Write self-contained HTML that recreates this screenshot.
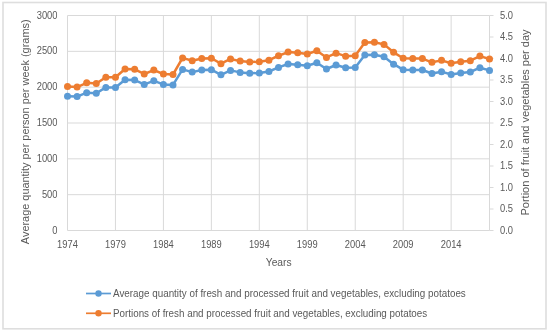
<!DOCTYPE html>
<html><head><meta charset="utf-8"><style>
html,body{margin:0;padding:0;background:#fff;}
svg{display:block;will-change:transform;}
.t{font-family:"Liberation Sans",sans-serif;font-size:10.0px;fill:#595959;}
.tl{font-family:"Liberation Sans",sans-serif;font-size:10.2px;fill:#595959;}
.tt{font-family:"Liberation Sans",sans-serif;font-size:10.6px;fill:#595959;}
</style></head><body>
<svg width="550" height="332" viewBox="0 0 550 332">
<rect x="3" y="2.5" width="543" height="326.3" fill="none" stroke="#dedede" stroke-width="1.6"/>
<line x1="67.5" y1="15.50" x2="489.5" y2="15.50" stroke="#d9d9d9" stroke-width="1"/>
<line x1="67.5" y1="51.33" x2="489.5" y2="51.33" stroke="#d9d9d9" stroke-width="1"/>
<line x1="67.5" y1="87.17" x2="489.5" y2="87.17" stroke="#d9d9d9" stroke-width="1"/>
<line x1="67.5" y1="123.00" x2="489.5" y2="123.00" stroke="#d9d9d9" stroke-width="1"/>
<line x1="67.5" y1="158.83" x2="489.5" y2="158.83" stroke="#d9d9d9" stroke-width="1"/>
<line x1="67.5" y1="194.67" x2="489.5" y2="194.67" stroke="#d9d9d9" stroke-width="1"/>
<line x1="67.5" y1="230.50" x2="489.5" y2="230.50" stroke="#d9d9d9" stroke-width="1"/>
<line x1="67.50" y1="15.5" x2="67.50" y2="230.5" stroke="#d9d9d9" stroke-width="1"/>
<line x1="115.45" y1="15.5" x2="115.45" y2="230.5" stroke="#d9d9d9" stroke-width="1"/>
<line x1="163.41" y1="15.5" x2="163.41" y2="230.5" stroke="#d9d9d9" stroke-width="1"/>
<line x1="211.36" y1="15.5" x2="211.36" y2="230.5" stroke="#d9d9d9" stroke-width="1"/>
<line x1="259.32" y1="15.5" x2="259.32" y2="230.5" stroke="#d9d9d9" stroke-width="1"/>
<line x1="307.27" y1="15.5" x2="307.27" y2="230.5" stroke="#d9d9d9" stroke-width="1"/>
<line x1="355.23" y1="15.5" x2="355.23" y2="230.5" stroke="#d9d9d9" stroke-width="1"/>
<line x1="403.18" y1="15.5" x2="403.18" y2="230.5" stroke="#d9d9d9" stroke-width="1"/>
<line x1="451.14" y1="15.5" x2="451.14" y2="230.5" stroke="#d9d9d9" stroke-width="1"/>
<line x1="489.5" y1="15.5" x2="489.5" y2="230.5" stroke="#d9d9d9" stroke-width="1"/>
<line x1="489.5" y1="15.50" x2="493.5" y2="15.50" stroke="#d9d9d9" stroke-width="1"/>
<line x1="489.5" y1="37.00" x2="493.5" y2="37.00" stroke="#d9d9d9" stroke-width="1"/>
<line x1="489.5" y1="58.50" x2="493.5" y2="58.50" stroke="#d9d9d9" stroke-width="1"/>
<line x1="489.5" y1="80.00" x2="493.5" y2="80.00" stroke="#d9d9d9" stroke-width="1"/>
<line x1="489.5" y1="101.50" x2="493.5" y2="101.50" stroke="#d9d9d9" stroke-width="1"/>
<line x1="489.5" y1="123.00" x2="493.5" y2="123.00" stroke="#d9d9d9" stroke-width="1"/>
<line x1="489.5" y1="144.50" x2="493.5" y2="144.50" stroke="#d9d9d9" stroke-width="1"/>
<line x1="489.5" y1="166.00" x2="493.5" y2="166.00" stroke="#d9d9d9" stroke-width="1"/>
<line x1="489.5" y1="187.50" x2="493.5" y2="187.50" stroke="#d9d9d9" stroke-width="1"/>
<line x1="489.5" y1="209.00" x2="493.5" y2="209.00" stroke="#d9d9d9" stroke-width="1"/>
<line x1="489.5" y1="230.50" x2="493.5" y2="230.50" stroke="#d9d9d9" stroke-width="1"/>
<text x="57.5" y="18.60" text-anchor="end" class="t" textLength="20.8" lengthAdjust="spacingAndGlyphs">3000</text>
<text x="57.5" y="54.43" text-anchor="end" class="t" textLength="20.8" lengthAdjust="spacingAndGlyphs">2500</text>
<text x="57.5" y="90.27" text-anchor="end" class="t" textLength="20.8" lengthAdjust="spacingAndGlyphs">2000</text>
<text x="57.5" y="126.10" text-anchor="end" class="t" textLength="20.8" lengthAdjust="spacingAndGlyphs">1500</text>
<text x="57.5" y="161.93" text-anchor="end" class="t" textLength="20.8" lengthAdjust="spacingAndGlyphs">1000</text>
<text x="57.5" y="197.77" text-anchor="end" class="t" textLength="15.6" lengthAdjust="spacingAndGlyphs">500</text>
<text x="57.5" y="233.60" text-anchor="end" class="t" textLength="5.2" lengthAdjust="spacingAndGlyphs">0</text>
<text x="500" y="18.70" class="t" textLength="13.0" lengthAdjust="spacingAndGlyphs">5.0</text>
<text x="500" y="40.20" class="t" textLength="13.0" lengthAdjust="spacingAndGlyphs">4.5</text>
<text x="500" y="61.70" class="t" textLength="13.0" lengthAdjust="spacingAndGlyphs">4.0</text>
<text x="500" y="83.20" class="t" textLength="13.0" lengthAdjust="spacingAndGlyphs">3.5</text>
<text x="500" y="104.70" class="t" textLength="13.0" lengthAdjust="spacingAndGlyphs">3.0</text>
<text x="500" y="126.20" class="t" textLength="13.0" lengthAdjust="spacingAndGlyphs">2.5</text>
<text x="500" y="147.70" class="t" textLength="13.0" lengthAdjust="spacingAndGlyphs">2.0</text>
<text x="500" y="169.20" class="t" textLength="13.0" lengthAdjust="spacingAndGlyphs">1.5</text>
<text x="500" y="190.70" class="t" textLength="13.0" lengthAdjust="spacingAndGlyphs">1.0</text>
<text x="500" y="212.20" class="t" textLength="13.0" lengthAdjust="spacingAndGlyphs">0.5</text>
<text x="500" y="233.70" class="t" textLength="13.0" lengthAdjust="spacingAndGlyphs">0.0</text>
<text x="67.50" y="247.5" text-anchor="middle" class="t" textLength="20.8" lengthAdjust="spacingAndGlyphs">1974</text>
<text x="115.45" y="247.5" text-anchor="middle" class="t" textLength="20.8" lengthAdjust="spacingAndGlyphs">1979</text>
<text x="163.41" y="247.5" text-anchor="middle" class="t" textLength="20.8" lengthAdjust="spacingAndGlyphs">1984</text>
<text x="211.36" y="247.5" text-anchor="middle" class="t" textLength="20.8" lengthAdjust="spacingAndGlyphs">1989</text>
<text x="259.32" y="247.5" text-anchor="middle" class="t" textLength="20.8" lengthAdjust="spacingAndGlyphs">1994</text>
<text x="307.27" y="247.5" text-anchor="middle" class="t" textLength="20.8" lengthAdjust="spacingAndGlyphs">1999</text>
<text x="355.23" y="247.5" text-anchor="middle" class="t" textLength="20.8" lengthAdjust="spacingAndGlyphs">2004</text>
<text x="403.18" y="247.5" text-anchor="middle" class="t" textLength="20.8" lengthAdjust="spacingAndGlyphs">2009</text>
<text x="451.14" y="247.5" text-anchor="middle" class="t" textLength="20.8" lengthAdjust="spacingAndGlyphs">2014</text>
<text x="278.7" y="265.7" text-anchor="middle" class="tt" textLength="25.9" lengthAdjust="spacingAndGlyphs">Years</text>
<text transform="translate(29.4,131.8) rotate(-90)" text-anchor="middle" class="tt" textLength="224.7" lengthAdjust="spacingAndGlyphs">Average quantity per person per week (grams)</text>
<text transform="translate(528.5,122.5) rotate(-90)" text-anchor="middle" class="tt" textLength="186.1" lengthAdjust="spacingAndGlyphs">Portion of fruit and vegetables per day</text>
<polyline points="67.50,96.20 77.09,96.60 86.68,92.70 96.27,93.30 105.86,87.40 115.45,87.40 125.05,79.70 134.64,80.10 144.23,84.40 153.82,80.80 163.41,84.40 173.00,84.90 182.59,69.40 192.18,72.10 201.77,70.00 211.36,69.70 220.95,74.80 230.55,70.40 240.14,72.40 249.73,73.30 259.32,73.00 268.91,71.50 278.50,67.40 288.09,64.00 297.68,64.70 307.27,65.80 316.86,62.70 326.45,69.00 336.05,65.00 345.64,67.80 355.23,67.40 364.82,55.10 374.41,54.80 384.00,56.80 393.59,64.20 403.18,69.70 412.77,70.00 422.36,70.00 431.95,73.50 441.55,71.70 451.14,74.40 460.73,73.10 470.32,72.00 479.91,67.70 489.50,70.40" fill="none" stroke="#5b9bd5" stroke-width="2.5" stroke-linejoin="round"/><circle cx="67.50" cy="96.20" r="3.5" fill="#5b9bd5"/><circle cx="77.09" cy="96.60" r="3.5" fill="#5b9bd5"/><circle cx="86.68" cy="92.70" r="3.5" fill="#5b9bd5"/><circle cx="96.27" cy="93.30" r="3.5" fill="#5b9bd5"/><circle cx="105.86" cy="87.40" r="3.5" fill="#5b9bd5"/><circle cx="115.45" cy="87.40" r="3.5" fill="#5b9bd5"/><circle cx="125.05" cy="79.70" r="3.5" fill="#5b9bd5"/><circle cx="134.64" cy="80.10" r="3.5" fill="#5b9bd5"/><circle cx="144.23" cy="84.40" r="3.5" fill="#5b9bd5"/><circle cx="153.82" cy="80.80" r="3.5" fill="#5b9bd5"/><circle cx="163.41" cy="84.40" r="3.5" fill="#5b9bd5"/><circle cx="173.00" cy="84.90" r="3.5" fill="#5b9bd5"/><circle cx="182.59" cy="69.40" r="3.5" fill="#5b9bd5"/><circle cx="192.18" cy="72.10" r="3.5" fill="#5b9bd5"/><circle cx="201.77" cy="70.00" r="3.5" fill="#5b9bd5"/><circle cx="211.36" cy="69.70" r="3.5" fill="#5b9bd5"/><circle cx="220.95" cy="74.80" r="3.5" fill="#5b9bd5"/><circle cx="230.55" cy="70.40" r="3.5" fill="#5b9bd5"/><circle cx="240.14" cy="72.40" r="3.5" fill="#5b9bd5"/><circle cx="249.73" cy="73.30" r="3.5" fill="#5b9bd5"/><circle cx="259.32" cy="73.00" r="3.5" fill="#5b9bd5"/><circle cx="268.91" cy="71.50" r="3.5" fill="#5b9bd5"/><circle cx="278.50" cy="67.40" r="3.5" fill="#5b9bd5"/><circle cx="288.09" cy="64.00" r="3.5" fill="#5b9bd5"/><circle cx="297.68" cy="64.70" r="3.5" fill="#5b9bd5"/><circle cx="307.27" cy="65.80" r="3.5" fill="#5b9bd5"/><circle cx="316.86" cy="62.70" r="3.5" fill="#5b9bd5"/><circle cx="326.45" cy="69.00" r="3.5" fill="#5b9bd5"/><circle cx="336.05" cy="65.00" r="3.5" fill="#5b9bd5"/><circle cx="345.64" cy="67.80" r="3.5" fill="#5b9bd5"/><circle cx="355.23" cy="67.40" r="3.5" fill="#5b9bd5"/><circle cx="364.82" cy="55.10" r="3.5" fill="#5b9bd5"/><circle cx="374.41" cy="54.80" r="3.5" fill="#5b9bd5"/><circle cx="384.00" cy="56.80" r="3.5" fill="#5b9bd5"/><circle cx="393.59" cy="64.20" r="3.5" fill="#5b9bd5"/><circle cx="403.18" cy="69.70" r="3.5" fill="#5b9bd5"/><circle cx="412.77" cy="70.00" r="3.5" fill="#5b9bd5"/><circle cx="422.36" cy="70.00" r="3.5" fill="#5b9bd5"/><circle cx="431.95" cy="73.50" r="3.5" fill="#5b9bd5"/><circle cx="441.55" cy="71.70" r="3.5" fill="#5b9bd5"/><circle cx="451.14" cy="74.40" r="3.5" fill="#5b9bd5"/><circle cx="460.73" cy="73.10" r="3.5" fill="#5b9bd5"/><circle cx="470.32" cy="72.00" r="3.5" fill="#5b9bd5"/><circle cx="479.91" cy="67.70" r="3.5" fill="#5b9bd5"/><circle cx="489.50" cy="70.40" r="3.5" fill="#5b9bd5"/>
<polyline points="67.50,86.61 77.09,87.04 86.68,82.86 96.27,83.50 105.86,77.18 115.45,77.18 125.05,68.93 134.64,69.36 144.23,73.97 153.82,70.11 163.41,73.97 173.00,74.50 182.59,57.90 192.18,60.79 201.77,58.54 211.36,58.22 220.95,63.68 230.55,58.97 240.14,61.11 249.73,62.08 259.32,61.75 268.91,60.15 278.50,55.75 288.09,52.11 297.68,52.86 307.27,54.04 316.86,50.72 326.45,57.47 336.05,53.18 345.64,56.18 355.23,55.75 364.82,42.58 374.41,42.26 384.00,44.40 393.59,52.33 403.18,58.22 412.77,58.54 422.36,58.54 431.95,62.29 441.55,60.36 451.14,63.25 460.73,61.86 470.32,60.68 479.91,56.08 489.50,58.97" fill="none" stroke="#ed7d31" stroke-width="2.5" stroke-linejoin="round"/><circle cx="67.50" cy="86.61" r="3.5" fill="#ed7d31"/><circle cx="77.09" cy="87.04" r="3.5" fill="#ed7d31"/><circle cx="86.68" cy="82.86" r="3.5" fill="#ed7d31"/><circle cx="96.27" cy="83.50" r="3.5" fill="#ed7d31"/><circle cx="105.86" cy="77.18" r="3.5" fill="#ed7d31"/><circle cx="115.45" cy="77.18" r="3.5" fill="#ed7d31"/><circle cx="125.05" cy="68.93" r="3.5" fill="#ed7d31"/><circle cx="134.64" cy="69.36" r="3.5" fill="#ed7d31"/><circle cx="144.23" cy="73.97" r="3.5" fill="#ed7d31"/><circle cx="153.82" cy="70.11" r="3.5" fill="#ed7d31"/><circle cx="163.41" cy="73.97" r="3.5" fill="#ed7d31"/><circle cx="173.00" cy="74.50" r="3.5" fill="#ed7d31"/><circle cx="182.59" cy="57.90" r="3.5" fill="#ed7d31"/><circle cx="192.18" cy="60.79" r="3.5" fill="#ed7d31"/><circle cx="201.77" cy="58.54" r="3.5" fill="#ed7d31"/><circle cx="211.36" cy="58.22" r="3.5" fill="#ed7d31"/><circle cx="220.95" cy="63.68" r="3.5" fill="#ed7d31"/><circle cx="230.55" cy="58.97" r="3.5" fill="#ed7d31"/><circle cx="240.14" cy="61.11" r="3.5" fill="#ed7d31"/><circle cx="249.73" cy="62.08" r="3.5" fill="#ed7d31"/><circle cx="259.32" cy="61.75" r="3.5" fill="#ed7d31"/><circle cx="268.91" cy="60.15" r="3.5" fill="#ed7d31"/><circle cx="278.50" cy="55.75" r="3.5" fill="#ed7d31"/><circle cx="288.09" cy="52.11" r="3.5" fill="#ed7d31"/><circle cx="297.68" cy="52.86" r="3.5" fill="#ed7d31"/><circle cx="307.27" cy="54.04" r="3.5" fill="#ed7d31"/><circle cx="316.86" cy="50.72" r="3.5" fill="#ed7d31"/><circle cx="326.45" cy="57.47" r="3.5" fill="#ed7d31"/><circle cx="336.05" cy="53.18" r="3.5" fill="#ed7d31"/><circle cx="345.64" cy="56.18" r="3.5" fill="#ed7d31"/><circle cx="355.23" cy="55.75" r="3.5" fill="#ed7d31"/><circle cx="364.82" cy="42.58" r="3.5" fill="#ed7d31"/><circle cx="374.41" cy="42.26" r="3.5" fill="#ed7d31"/><circle cx="384.00" cy="44.40" r="3.5" fill="#ed7d31"/><circle cx="393.59" cy="52.33" r="3.5" fill="#ed7d31"/><circle cx="403.18" cy="58.22" r="3.5" fill="#ed7d31"/><circle cx="412.77" cy="58.54" r="3.5" fill="#ed7d31"/><circle cx="422.36" cy="58.54" r="3.5" fill="#ed7d31"/><circle cx="431.95" cy="62.29" r="3.5" fill="#ed7d31"/><circle cx="441.55" cy="60.36" r="3.5" fill="#ed7d31"/><circle cx="451.14" cy="63.25" r="3.5" fill="#ed7d31"/><circle cx="460.73" cy="61.86" r="3.5" fill="#ed7d31"/><circle cx="470.32" cy="60.68" r="3.5" fill="#ed7d31"/><circle cx="479.91" cy="56.08" r="3.5" fill="#ed7d31"/><circle cx="489.50" cy="58.97" r="3.5" fill="#ed7d31"/>
<line x1="86" y1="293.5" x2="111" y2="293.5" stroke="#5b9bd5" stroke-width="1.7"/>
<circle cx="98.5" cy="293.5" r="3.2" fill="#5b9bd5"/>
<text x="113" y="296.50" class="tl" textLength="352.8" lengthAdjust="spacingAndGlyphs">Average quantity of fresh and processed fruit and vegetables, excluding potatoes</text>
<line x1="86" y1="313.3" x2="111" y2="313.3" stroke="#ed7d31" stroke-width="1.7"/>
<circle cx="98.5" cy="313.3" r="3.2" fill="#ed7d31"/>
<text x="113" y="316.60" class="tl" textLength="314.2" lengthAdjust="spacingAndGlyphs">Portions of fresh and processed fruit and vegetables, excluding potatoes</text>
</svg>
</body></html>
